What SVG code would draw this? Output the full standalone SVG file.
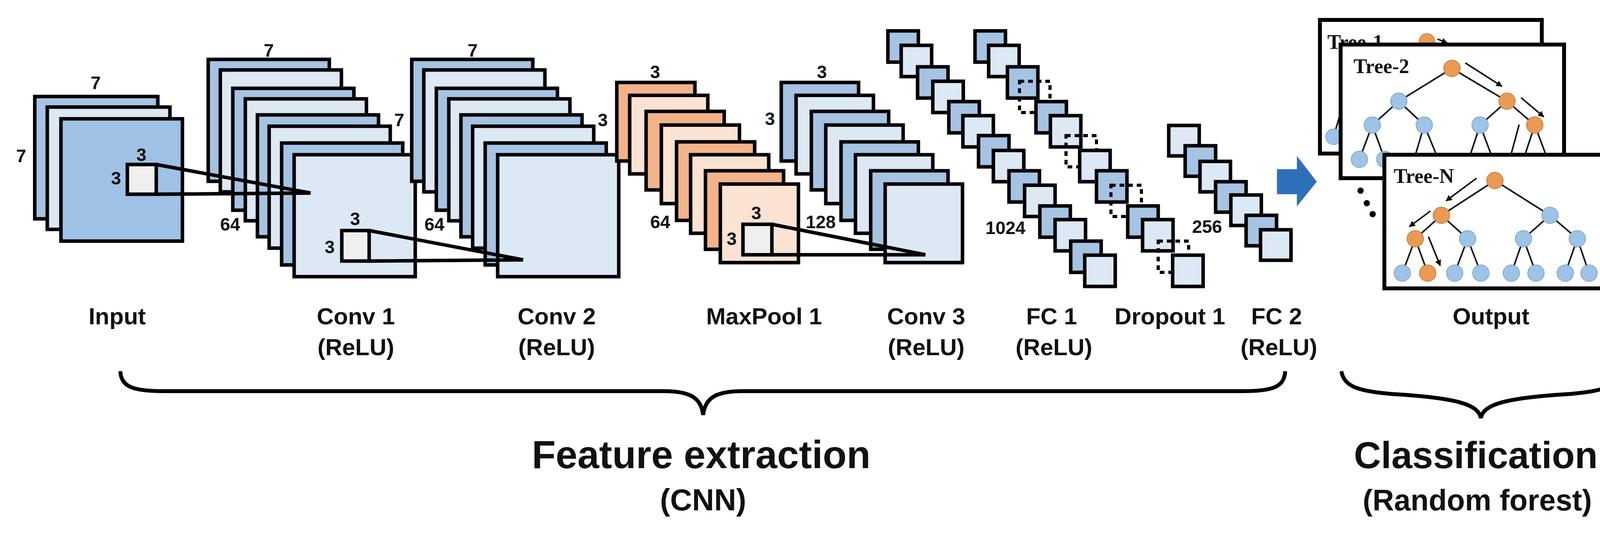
<svg xmlns="http://www.w3.org/2000/svg" width="4200" height="1364" viewBox="0 0 4200 1364">
<defs>
<style>
.b{fill:#a6c3e3;stroke:#000;stroke-width:9}
.l{fill:#dde8f5;stroke:#000;stroke-width:9}
.f{fill:#9fc1e6;stroke:#000;stroke-width:9}
.o{fill:#f3b38a;stroke:#000;stroke-width:9}
.p{fill:#fbe3d3;stroke:#000;stroke-width:9}
.k{fill:#efefef;stroke:#000;stroke-width:9}
.d{fill:none;stroke:#000;stroke-width:8;stroke-dasharray:12 10}
.n{font-family:"Liberation Sans",Arial,sans-serif;font-weight:bold;font-size:46px;fill:#111;text-anchor:middle;dominant-baseline:central}
.lab{font-family:"Liberation Sans",Arial,sans-serif;font-weight:bold;font-size:60px;fill:#111;text-anchor:middle}
.big{font-family:"Liberation Sans",Arial,sans-serif;font-weight:bold;font-size:100px;fill:#111;text-anchor:middle}
.sub{font-family:"Liberation Sans",Arial,sans-serif;font-weight:bold;font-size:78px;fill:#111;text-anchor:middle}
.tt{font-family:"Liberation Serif","Times New Roman",serif;font-weight:bold;font-size:52px;fill:#111}
.box{fill:#fff;stroke:#000;stroke-width:10}
.e{stroke:#111;stroke-width:4;fill:none}
.nb{fill:#9dc3e6;stroke:#7ea6cf;stroke-width:2}
.no{fill:#ea9a52;stroke:#c9793a;stroke-width:2}
.ar{stroke:#111;stroke-width:4;fill:none;marker-end:url(#ah)}
.proj{stroke:#000;stroke-width:9;fill:none}
</style>
<marker id="ah" viewBox="0 0 10 10" refX="9" refY="5" markerWidth="4" markerHeight="4" orient="auto"><path d="M0,0 L10,5 L0,10 z" fill="#111"/></marker>
</defs>
<rect width="4200" height="1364" fill="#fff"/>

<g id="input">
<rect class="b" x="89" y="247" width="315" height="313"/>
<rect class="l" x="121" y="274" width="314" height="313"/>
<rect class="f" x="156" y="304" width="311" height="313"/>
<rect class="k" x="326" y="421" width="74" height="76"/>
<text class="n" x="245" y="212">7</text>
<text class="n" x="54" y="399">7</text>
<text class="n" x="362" y="396">3</text>
<text class="n" x="297" y="456">3</text>
<text class="lab" x="300" y="830">Input</text>
</g>

<g id="conv1">
<rect class="b" x="533" y="152" width="310" height="312"/>
<rect class="l" x="564" y="179" width="310" height="312"/>
<rect class="b" x="596" y="226" width="310" height="312"/>
<rect class="l" x="628" y="253" width="310" height="312"/>
<rect class="b" x="659" y="294" width="310" height="312"/>
<rect class="l" x="689" y="323" width="310" height="312"/>
<rect class="b" x="721" y="366" width="310" height="312"/>
<rect class="l" x="753" y="396" width="310" height="312"/>
<rect class="k" x="875" y="590" width="70" height="78"/>
<text class="n" x="688" y="129">7</text>
<text class="n" x="1022" y="307">7</text>
<text class="n" x="589" y="574">64</text>
<text class="n" x="909" y="560">3</text>
<text class="n" x="844" y="632">3</text>
<text class="lab" x="911" y="830">Conv 1</text>
<text class="lab" x="911" y="909">(ReLU)</text>
</g>

<g id="conv2">
<rect class="b" x="1054" y="152" width="310" height="312"/>
<rect class="l" x="1085" y="179" width="310" height="312"/>
<rect class="b" x="1117" y="226" width="310" height="312"/>
<rect class="l" x="1149" y="253" width="310" height="312"/>
<rect class="b" x="1180" y="294" width="310" height="312"/>
<rect class="l" x="1210" y="323" width="310" height="312"/>
<rect class="b" x="1242" y="366" width="310" height="312"/>
<rect class="l" x="1274" y="396" width="310" height="312"/>
<text class="n" x="1210" y="129">7</text>
<text class="n" x="1543" y="307">3</text>
<text class="n" x="1112" y="574">64</text>
<text class="lab" x="1425" y="830">Conv 2</text>
<text class="lab" x="1425" y="909">(ReLU)</text>
</g>

<g id="maxpool1">
<rect class="o" x="1579" y="211" width="200" height="201"/>
<rect class="p" x="1612" y="244" width="200" height="201"/>
<rect class="o" x="1654" y="285" width="200" height="201"/>
<rect class="p" x="1693" y="320" width="200" height="201"/>
<rect class="o" x="1732" y="363" width="200" height="201"/>
<rect class="p" x="1768" y="396" width="200" height="201"/>
<rect class="o" x="1806" y="437" width="200" height="201"/>
<rect class="p" x="1844" y="471" width="200" height="201"/>
<rect class="k" x="1902" y="574" width="74" height="78"/>
<text class="n" x="1677" y="184">3</text>
<text class="n" x="1690" y="568">64</text>
<text class="n" x="1936" y="545">3</text>
<text class="n" x="1873" y="611">3</text>
<text class="lab" x="1956" y="830">MaxPool 1</text>
</g>

<g id="conv3">
<rect class="b" x="2000" y="211" width="198" height="201"/>
<rect class="l" x="2038" y="244" width="198" height="201"/>
<rect class="b" x="2077" y="285" width="198" height="201"/>
<rect class="l" x="2114" y="320" width="198" height="201"/>
<rect class="b" x="2153" y="363" width="198" height="201"/>
<rect class="l" x="2190" y="396" width="198" height="201"/>
<rect class="b" x="2229" y="437" width="198" height="201"/>
<rect class="l" x="2266" y="471" width="198" height="201"/>
<text class="n" x="2104" y="184">3</text>
<text class="n" x="1971" y="304">3</text>
<text class="n" x="2101" y="568">128</text>
<text class="lab" x="2371" y="830">Conv 3</text>
<text class="lab" x="2371" y="909">(ReLU)</text>
</g>

<g id="fc1">
<rect class="b" x="2273" y="79" width="78" height="80"/>
<rect class="l" x="2307" y="116" width="78" height="80"/>
<rect class="b" x="2349" y="171" width="78" height="80"/>
<rect class="l" x="2388" y="208" width="78" height="80"/>
<rect class="b" x="2429" y="260" width="78" height="80"/>
<rect class="l" x="2465" y="296" width="78" height="80"/>
<rect class="b" x="2505" y="347" width="78" height="80"/>
<rect class="l" x="2543" y="385" width="78" height="80"/>
<rect class="b" x="2583" y="437" width="78" height="80"/>
<rect class="l" x="2623" y="474" width="78" height="80"/>
<rect class="b" x="2662" y="527" width="78" height="80"/>
<rect class="l" x="2701" y="562" width="78" height="80"/>
<rect class="b" x="2741" y="617" width="78" height="80"/>
<rect class="l" x="2777" y="653" width="78" height="80"/>
<text class="n" x="2574" y="583">1024</text>
<text class="lab" x="2692" y="830">FC 1</text>
<text class="lab" x="2698" y="909">(ReLU)</text>
</g>

<g id="dropout1">
<rect class="b" x="2496" y="79" width="78" height="80"/>
<rect class="l" x="2531" y="116" width="78" height="80"/>
<rect class="b" x="2579" y="171" width="78" height="80"/>
<rect class="d" x="2610" y="208" width="78" height="80"/>
<rect class="b" x="2652" y="260" width="78" height="80"/>
<rect class="l" x="2689" y="296" width="78" height="80"/>
<rect class="d" x="2729" y="347" width="78" height="80"/>
<rect class="l" x="2764" y="385" width="78" height="80"/>
<rect class="b" x="2807" y="437" width="78" height="80"/>
<rect class="d" x="2844" y="474" width="78" height="80"/>
<rect class="b" x="2887" y="527" width="78" height="80"/>
<rect class="l" x="2925" y="562" width="78" height="80"/>
<rect class="d" x="2965" y="617" width="78" height="80"/>
<rect class="l" x="3002" y="653" width="78" height="80"/>
<text class="lab" x="2995" y="830">Dropout 1</text>
</g>

<g id="fc2">
<rect class="l" x="2992" y="321" width="78" height="78"/>
<rect class="b" x="3034" y="373" width="78" height="78"/>
<rect class="l" x="3072" y="413" width="78" height="78"/>
<rect class="b" x="3112" y="465" width="78" height="78"/>
<rect class="l" x="3151" y="499" width="78" height="78"/>
<rect class="b" x="3190" y="551" width="78" height="78"/>
<rect class="l" x="3227" y="588" width="78" height="78"/>
<text class="n" x="3090" y="580">256</text>
<text class="lab" x="3268" y="830">FC 2</text>
<text class="lab" x="3274" y="909">(ReLU)</text>
</g>

<g id="connectors">
<polyline class="proj" points="400,421 795,494 400,497"/>
<polyline class="proj" points="945,590 1339,665 945,668"/>
<polyline class="proj" points="1976,574 2369,652 1976,652"/>
<path d="M3269,433 L3320,433 L3320,399 L3371,465 L3320,528 L3320,497 L3269,497 Z" fill="#2e6fba"/>
</g>

<g id="tree1">
<rect class="box" x="3379" y="51" width="568" height="342"/>
<text class="tt" x="3398" y="125">Tree-1</text>
<line class="e" x1="3414" y1="350" x2="3440" y2="260"/>
<circle class="no" cx="3653" cy="106" r="20"/>
<line class="ar" x1="3680" y1="100" x2="3705" y2="110"/>
<circle class="nb" cx="3414" cy="350" r="20"/>
</g>

<g id="tree2">
<rect class="box" x="3432" y="114" width="572" height="342"/>
<text class="tt" x="3465" y="187">Tree-2</text>
<g class="e">
<line x1="3717" y1="175" x2="3581" y2="259"/><line x1="3717" y1="175" x2="3858" y2="259"/>
<line x1="3581" y1="259" x2="3513" y2="320"/><line x1="3581" y1="259" x2="3646" y2="320"/>
<line x1="3858" y1="259" x2="3789" y2="320"/><line x1="3858" y1="259" x2="3929" y2="320"/>
<line x1="3513" y1="320" x2="3480" y2="408"/><line x1="3513" y1="320" x2="3545" y2="408"/>
<line x1="3646" y1="320" x2="3620" y2="408"/><line x1="3646" y1="320" x2="3682" y2="408"/>
<line x1="3789" y1="320" x2="3760" y2="408"/><line x1="3789" y1="320" x2="3822" y2="408"/>
<line x1="3929" y1="320" x2="3900" y2="408"/><line x1="3929" y1="320" x2="3962" y2="408"/>
<line x1="3889" y1="319" x2="3867" y2="400"/>
</g>
<line class="ar" x1="3751" y1="161" x2="3845" y2="221"/>
<line class="ar" x1="3894" y1="250" x2="3952" y2="299"/>
<circle class="no" cx="3717" cy="175" r="21"/>
<circle class="nb" cx="3581" cy="259" r="21"/><circle class="no" cx="3858" cy="259" r="21"/>
<circle class="nb" cx="3513" cy="320" r="21"/><circle class="nb" cx="3646" cy="320" r="21"/>
<circle class="nb" cx="3789" cy="320" r="21"/><circle class="no" cx="3929" cy="320" r="21"/>
<circle class="nb" cx="3480" cy="408" r="21"/><circle class="nb" cx="3545" cy="408" r="21"/>
</g>

<g id="dots">
<circle cx="3483" cy="488" r="8" fill="#000"/>
<circle cx="3499" cy="520" r="8" fill="#000"/>
<circle cx="3514" cy="548" r="8" fill="#000"/>
</g>

<g id="treeN">
<rect class="box" x="3544" y="396" width="568" height="342"/>
<text class="tt" x="3568" y="468">Tree-N</text>
<g class="e">
<line x1="3827" y1="462" x2="3690" y2="551"/><line x1="3827" y1="462" x2="3968" y2="551"/>
<line x1="3690" y1="551" x2="3623" y2="611"/><line x1="3690" y1="551" x2="3757" y2="611"/>
<line x1="3968" y1="551" x2="3900" y2="611"/><line x1="3968" y1="551" x2="4038" y2="611"/>
<line x1="3623" y1="611" x2="3590" y2="699"/><line x1="3623" y1="611" x2="3655" y2="699"/>
<line x1="3757" y1="611" x2="3724" y2="699"/><line x1="3757" y1="611" x2="3791" y2="699"/>
<line x1="3900" y1="611" x2="3869" y2="699"/><line x1="3900" y1="611" x2="3932" y2="699"/>
<line x1="4038" y1="611" x2="4007" y2="699"/><line x1="4038" y1="611" x2="4068" y2="699"/>
</g>
<line class="ar" x1="3780" y1="456" x2="3702" y2="514"/>
<line class="ar" x1="3662" y1="540" x2="3608" y2="580"/>
<line class="ar" x1="3657" y1="606" x2="3687" y2="680"/>
<circle class="no" cx="3827" cy="462" r="21"/>
<circle class="no" cx="3690" cy="551" r="21"/><circle class="nb" cx="3968" cy="551" r="21"/>
<circle class="no" cx="3623" cy="611" r="21"/><circle class="nb" cx="3757" cy="611" r="21"/>
<circle class="nb" cx="3900" cy="611" r="21"/><circle class="nb" cx="4038" cy="611" r="21"/>
<circle class="nb" cx="3590" cy="699" r="21"/><circle class="no" cx="3655" cy="699" r="21"/>
<circle class="nb" cx="3724" cy="699" r="21"/><circle class="nb" cx="3791" cy="699" r="21"/>
<circle class="nb" cx="3869" cy="699" r="21"/><circle class="nb" cx="3932" cy="699" r="21"/>
<circle class="nb" cx="4007" cy="699" r="21"/><circle class="nb" cx="4068" cy="699" r="21"/>
<text class="lab" x="3817" y="830">Output</text>
</g>

<g id="braces">
<path d="M308,950 C310,990 340,1001 420,1001 L1700,1001 C1770,1001 1795,1020 1800,1062 C1805,1020 1830,1001 1900,1001 L3180,1001 C3260,1001 3288,990 3290,950" fill="none" stroke="#000" stroke-width="10"/>
<path d="M3434,950 C3440,990 3480,1001 3560,1008 C3730,1018 3785,1035 3791,1070 C3797,1035 3852,1018 4022,1008 C4100,1001 4145,990 4152,950" fill="none" stroke="#000" stroke-width="10"/>
</g>

<g id="titles">
<text class="big" x="1795" y="1198">Feature extraction</text>
<text class="sub" x="1800" y="1306">(CNN)</text>
<text class="big" x="3778" y="1198" style="font-size:96px">Classification</text>
<text class="sub" x="3782" y="1306" style="font-size:76px">(Random forest)</text>
</g>
</svg>
